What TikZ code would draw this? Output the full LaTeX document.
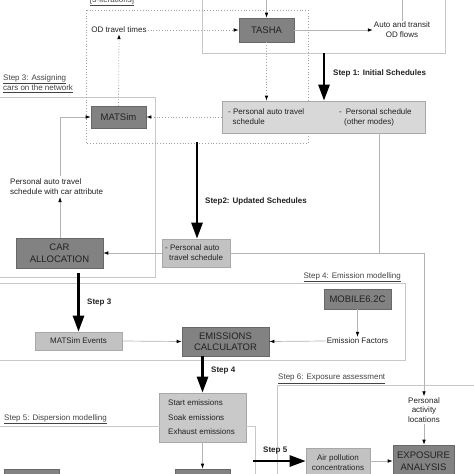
\documentclass[tikz,border=0pt]{standalone}
\usepackage{fontspec}
\setmainfont{Liberation Sans}
\usetikzlibrary{arrows.meta}
\definecolor{dk}{HTML}{828282}
\definecolor{dkb}{HTML}{686868}
\definecolor{lt}{HTML}{C2C2C2}
\definecolor{ltb}{HTML}{A8A8A8}
\definecolor{lt2}{HTML}{D8D8D8}
\definecolor{lt3}{HTML}{C9C9C9}
\definecolor{fr}{HTML}{C8C8C8}
\definecolor{lnc}{HTML}{B4B4B4}
\definecolor{dotc}{HTML}{A0A0A0}
\definecolor{txt}{HTML}{222222}
\begin{document}
\begin{tikzpicture}[x=1pt,y=-1pt,
  darkbox/.style={draw=dkb,fill=dk,line width=0.6pt,inner sep=0pt,align=center,font=\fontsize{9.5}{11.5}\selectfont,text=txt},
  lightbox/.style={draw=ltb,fill=lt,line width=0.6pt,inner sep=0pt,align=center,font=\fontsize{8}{10}\selectfont,text=txt},
  plain/.style={inner sep=1pt,align=center,font=\fontsize{8}{10}\selectfont,text=txt},
  steplab/.style={inner sep=0pt,anchor=west,font=\bfseries\fontsize{8}{10}\selectfont,text=txt},
  ulab/.style={inner sep=0pt,font=\fontsize{8}{10}\selectfont,text=txt!85,align=left},
  frame/.style={draw=fr,line width=0.8pt},
  dotl/.style={draw=dotc,dotted,line width=0.8pt},
  conn/.style={draw=lnc,line width=0.7pt},
  tip/.style={-{Latex[length=5pt,width=3.6pt,color=black]}},
  bigarrow/.style={line width=2.6pt,draw=black,-{Triangle[length=16pt,width=11pt]}}
]
\useasboundingbox (0,0) rectangle (474,474);
\clip (0,0) rectangle (474,474);
\fill[white] (0,0) rectangle (474,474);

% frames
\draw[frame] (202,-5) rectangle (445,53);
\draw[frame] (-5,97) rectangle (155,277);
\draw[frame] (-5,283) rectangle (405,360);
\draw[frame] (277,385) rectangle (480,480);
\draw[dotl] (86,10) rectangle (308,143);

% labels of frames
\node[ulab,anchor=base] (iterlab) at (112,2.5) {\underline{[3-iterations]}};
\node[ulab,anchor=west] (s3lab) at (3,83.5) {\underline{Step 3: Assigning}\\\underline{cars on the network}};
\node[ulab,anchor=east] (s4lab) at (401,277) {\underline{Step 4: Emission modelling}};
\node[ulab,anchor=west] (s5lab) at (4,419) {\underline{Step 5: Dispersion modelling}};
\node[ulab,anchor=west] (s6lab) at (278,379) {\underline{Step 6: Exposure assessment}};

% top part
\node[darkbox,minimum width=55pt,minimum height=24pt] (tasha) at (266.5,30) {TASHA};
\node[plain] (od) at (119,30) {OD travel times};
\node[plain] (auto) at (402,30) {Auto and transit\\OD flows};
\coordinate (toptasha) at (266.5,-5);
\coordinate (topauto) at (402,-5);
\draw[conn,tip] (toptasha) -- (tasha.north);
\draw[conn] (topauto) -- (auto.north);
\draw[dotl,tip] (od.east) -- (tasha.west);
\draw[conn,tip] (tasha.east) -- (auto.west);

% schedules box
\node[draw=ltb,fill=lt2,line width=0.6pt,minimum width=203pt,minimum height=32pt,inner sep=0pt] (sched) at (323.5,117) {};
\node[plain,anchor=west,align=left,inner sep=0pt] (schedA) at (228,117) {- Personal auto travel\\\hspace*{4.5pt}schedule};
\node[plain,anchor=west,align=left,inner sep=0pt] (schedB) at (339,117) {-\hspace*{4pt}Personal schedule\\\hspace*{5pt}(other modes)};
\draw[dotl,tip] (tasha.south) -- (tasha.south |- sched.north);

\node[darkbox,minimum width=55pt,minimum height=22pt] (matsim) at (118.5,117) {MATSim};
\draw[dotl,tip] (sched.west) -- (matsim.east);
\draw[dotl,tip] (matsim.north) -- (od.south);

\coordinate (s1start) at (324,53);
\draw[bigarrow] (s1start) -- (s1start |- sched.north);
\node[steplab] (s1) at (333,73) {Step 1: Initial Schedules};

% car allocation
\node[darkbox,minimum width=87pt,minimum height=30pt] (car) at (59.5,253) {CAR\\ALLOCATION};
\node[plain,anchor=west,align=left,inner sep=0pt] (carattr) at (10,186.5) {Personal auto travel\\schedule with car attribute};
\coordinate (carup) at (60,176);
\coordinate (carcorner) at (60,117);
\draw[conn,tip] (car.north -| carup) -- (60,197);
\draw[conn,tip] (carup) -- (carcorner) -- (matsim.west);

\node[lightbox,minimum width=68pt,minimum height=28pt] (pats) at (196,253) {};
\node[plain,anchor=west,align=left,inner sep=0pt] (patsT) at (165,253) {- Personal auto\\\hspace*{4pt}travel schedule};
\coordinate (s2start) at (197,142);
\draw[bigarrow] (s2start) -- (s2start |- pats.north);
\node[steplab] (s2) at (205,201) {Step2: Updated Schedules};
\draw[conn,tip] (pats.west) -- (car.east);

% personal activity locations
\node[plain,font=\fontsize{8}{9.5}\selectfont] (pal) at (424,410) {Personal\\activity\\locations};
\coordinate (palcorner) at (424,253);
\coordinate (otherdown) at (379,133);
\coordinate (otherjoin) at (379,253);
\draw[conn,tip] (pats.east) -- (palcorner) -- (pal.north);
\draw[conn] (otherdown) -- (otherjoin);

% step 3 / 4
\node[lightbox,minimum width=87pt,minimum height=18pt] (mev) at (78.5,341) {MATSim Events};
\coordinate (s3start) at (78.5,273);
\draw[bigarrow] (s3start) -- (mev.north);
\node[steplab] (s3) at (87,303) {Step 3};

\node[darkbox,minimum width=87pt,minimum height=29pt] (emc) at (225.5,341.5) {EMISSIONS\\CALCULATOR};
\node[darkbox,minimum width=67pt,minimum height=20pt] (mobile) at (357.5,299) {MOBILE6.2C};
\node[plain] (ef) at (357.5,341) {Emission Factors};
\draw[conn,tip] (mev.east) -- (emc.west);
\draw[conn,tip] (mobile.south) -- (ef.north);
\draw[conn,tip] (ef.west) -- (emc.east);

% emissions list
\node[lightbox,fill=lt3,minimum width=87pt,minimum height=49pt] (emis) at (202.5,417.5) {};
\node[plain,anchor=west,align=left,inner sep=0pt,font=\fontsize{8}{14.5}\selectfont] (emisT) at (168,417.5) {Start emissions\\Soak emissions\\Exhaust emissions};
\draw[bigarrow] (emis.north |- emc.south) -- (emis.north);
\node[steplab] (s4) at (211,371) {Step 4};

% step 5 frame
\draw[frame] (-5,426) -- (255,426) -- (255,480);

% bottom boxes
\node[darkbox,minimum width=55pt,minimum height=26pt] (boxL) at (31.5,482) {};
\node[darkbox,minimum width=55pt,minimum height=26pt] (boxM) at (202.5,482) {};
\draw[conn,tip] (emis.south) -- (boxM.north);

\node[lightbox,minimum width=64pt,minimum height=30pt] (air) at (338,463) {Air pollution\\concentrations};
\node[darkbox,minimum width=61pt,minimum height=32pt] (exp) at (423.5,461) {EXPOSURE\\ANALYSIS};
\coordinate (s5start) at (253,461);
\draw[bigarrow] (s5start) -- (s5start -| air.west);
\node[steplab] (s5) at (263,451) {Step 5};
\draw[conn,tip] (air.east |- exp.west) -- (exp.west);
\draw[conn,tip] (pal.south) -- (pal.south |- exp.north);
\end{tikzpicture}
\end{document}
